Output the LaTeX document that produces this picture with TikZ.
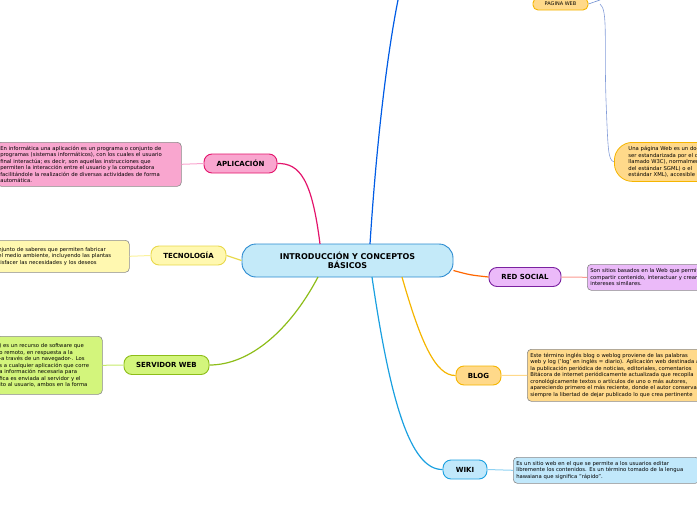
\documentclass[tikz,border=0pt]{standalone}
\usepackage{fontspec}
\setmainfont{DejaVu Sans}
\begin{document}
\begin{tikzpicture}[x=1pt,y=-1pt,
 topic/.style={draw,rounded corners=8pt,line width=0.9pt,minimum height=19pt,inner xsep=6pt,font=\fontsize{7}{8}\selectfont\bfseries},
 leaf/.style={draw=#1,rounded corners=4pt,line width=0.6pt,align=left,font=\fontsize{5.3}{6.5}\selectfont,inner sep=3pt,anchor=north west},
 conn/.style={line width=1.2pt},
 lconn/.style={line width=1pt}]
\useasboundingbox (0,0) rectangle (697,520);
\clip (0,0) rectangle (697,520);
\definecolor{pinkF}{HTML}{F9A6CF}\definecolor{pinkD}{HTML}{E3136B}
\definecolor{yelF}{HTML}{FFF8B0}\definecolor{yelD}{HTML}{E8D84A}
\definecolor{grnF}{HTML}{D3F57C}\definecolor{grnD}{HTML}{8DBD19}
\definecolor{purF}{HTML}{EBBAF9}\definecolor{purD}{HTML}{7B22A0}
\definecolor{orF}{HTML}{FFD98A}\definecolor{orD}{HTML}{F5B500}
\definecolor{bluF}{HTML}{C1E8FB}\definecolor{bluD}{HTML}{1AA0E0}
\definecolor{cenF}{HTML}{C4EAF9}\definecolor{cenD}{HTML}{2A8AD0}
\definecolor{leafB}{HTML}{8A8A8A}
% leaves
\node[leaf=leafB,fill=pinkF,minimum width=181pt,minimum height=44pt,text width=178pt] (la) at (-3,142) {En informática una aplicación es un programa o conjunto de\\programas (sistemas informáticos), con los cuales el usuario\\final interactúa; es decir, son aquellas instrucciones que\\permiten la interacción entre el usuario y la computadora\\facilitándole la realización de diversas actividades de forma\\automática.};
\node[leaf=leafB,fill=yelF,minimum width=130pt,minimum height=32pt,text width=128pt] (lt) at (-5,240) {njunto de saberes que permiten fabricar\\ el medio ambiente, incluyendo las plantas\\tisfacer las necesidades y los deseos};
\node[leaf=leafB,fill=grnF,minimum width=102pt,minimum height=58pt,text width=100pt] (ls) at (-4,336) {) es un recurso de software que\\o remoto, en respuesta a la\\ -a través de un navegador-. Los\\s a cualquier aplicación que corre\\a información necesaria para\\fica es enviada al servidor y el\\ito al usuario, ambos en la forma};
\node[leaf=leafB,fill=purF,minimum width=130pt,minimum height=26pt,text width=128pt] (lr) at (587,264) {Son sitios basados en la Web que permiten\\compartir contenido, interactuar y crear\\intereses similares.};
\node[leaf=leafB,fill=orF,minimum width=190pt,minimum height=52pt,text width=188pt] (lb) at (527,349) {Este término inglés blog o weblog proviene de las palabras\\web y log ('log' en inglés = diario). Aplicación web destinada a\\la publicación periódica de noticias, editoriales, comentarios\\Bitácora de internet periódicamente actualizada que recopila\\cronológicamente textos o artículos de uno o más autores,\\apareciendo primero el más reciente, donde el autor conserva\\siempre la libertad de dejar publicado lo que crea pertinente};
\node[leaf=leafB,fill=bluF,minimum width=184pt,minimum height=26pt,text width=180pt] (lw) at (513,457) {Es un sitio web en el que se permite a los usuarios editar\\libremente los contenidos. Es un término tomado de la lengua\\hawaiana que significa "rápido".};
\node[leaf=orD,fill=orF,rounded corners=18pt,minimum width=120pt,minimum height=39pt,text width=100pt,inner xsep=14pt,line width=0.8pt] (lp) at (614,142) {Una página Web es un documento\\ser estandarizada por el consorcio\\llamado W3C), normalmente\\del estándar SGML) o el\\estándar XML), accesible};
% topics
\node[topic,draw=cenD,fill=cenF,rounded corners=14pt,minimum width=211pt,minimum height=33pt,align=center,font=\fontsize{8}{9.5}\selectfont\bfseries] (c) at (347.5,260.5) {INTRODUCCIÓN Y CONCEPTOS\\BÁSICOS};
\node[topic,draw=pinkD,fill=pinkF,minimum width=73pt] (a) at (240.5,163.5) {APLICACIÓN};
\node[topic,draw=yelD,fill=yelF,minimum width=75pt] (t) at (188.5,255.5) {TECNOLOGÍA};
\node[topic,draw=grnD,fill=grnF,minimum width=85pt] (s) at (166.5,365) {SERVIDOR WEB};
\node[topic,draw=purD,fill=purF,minimum width=72pt] (r) at (525,277) {RED SOCIAL};
\node[topic,draw=orD,fill=orF,minimum width=45pt] (b) at (478.5,375.5) {BLOG};
\node[topic,draw=bluD,fill=bluF,minimum width=44pt] (w) at (465,469.5) {WIKI};
\node[topic,draw=orD,fill=orF,minimum width=55pt,minimum height=12pt,rounded corners=5pt,font=\fontsize{5}{6}\selectfont] (p) at (560.5,4) {PAGINA WEB};
\coordinate (top) at (398,0);
\coordinate (pt) at (600,0);
% connectors
\draw[conn,draw=pinkD] (320,244) .. controls (312,180) and (300,163) .. (a.east);
\draw[conn,draw=yelD] (c.west) -- (t.east);
\draw[conn,draw=grnD] (318,277) .. controls (290,330) and (250,365) .. (s.east);
\draw[conn,draw=orange!80!red] (c.east) ++(0,10) .. controls (470,275) .. (r.west);
\draw[conn,draw=orD] (402,277) .. controls (420,340) and (435,376) .. (b.west);
\draw[conn,draw=bluD] (372,277) .. controls (390,400) and (410,470) .. (w.west);
\draw[conn,draw=blue!60!cyan!90!black] (370,244) .. controls (378,120) and (390,40) .. (top);
\draw[line width=0.6pt,draw=cyan!40!blue!60] (p.east) -- (pt);
\draw[line width=0.6pt,draw=cyan!40!blue!50] (600,4) .. controls (608,10) and (604,40) .. (606,100) .. controls (608,150) and (608,160) .. (lp.west);
\draw[lconn,draw=pinkF] (a.west) -- (la.east);
\draw[lconn,draw=yelF!80!yelD] (t.west) -- (lt.east);
\draw[lconn,draw=grnF!80!grnD] (s.west) -- (ls.east);
\draw[lconn,draw=pinkF!70!orange] (r.east) -- (lr.west);
\draw[lconn,draw=orF] (b.east) -- (lb.west);
\draw[lconn,draw=bluF!70!bluD] (w.east) -- (lw.west);
\end{tikzpicture}
\end{document}
